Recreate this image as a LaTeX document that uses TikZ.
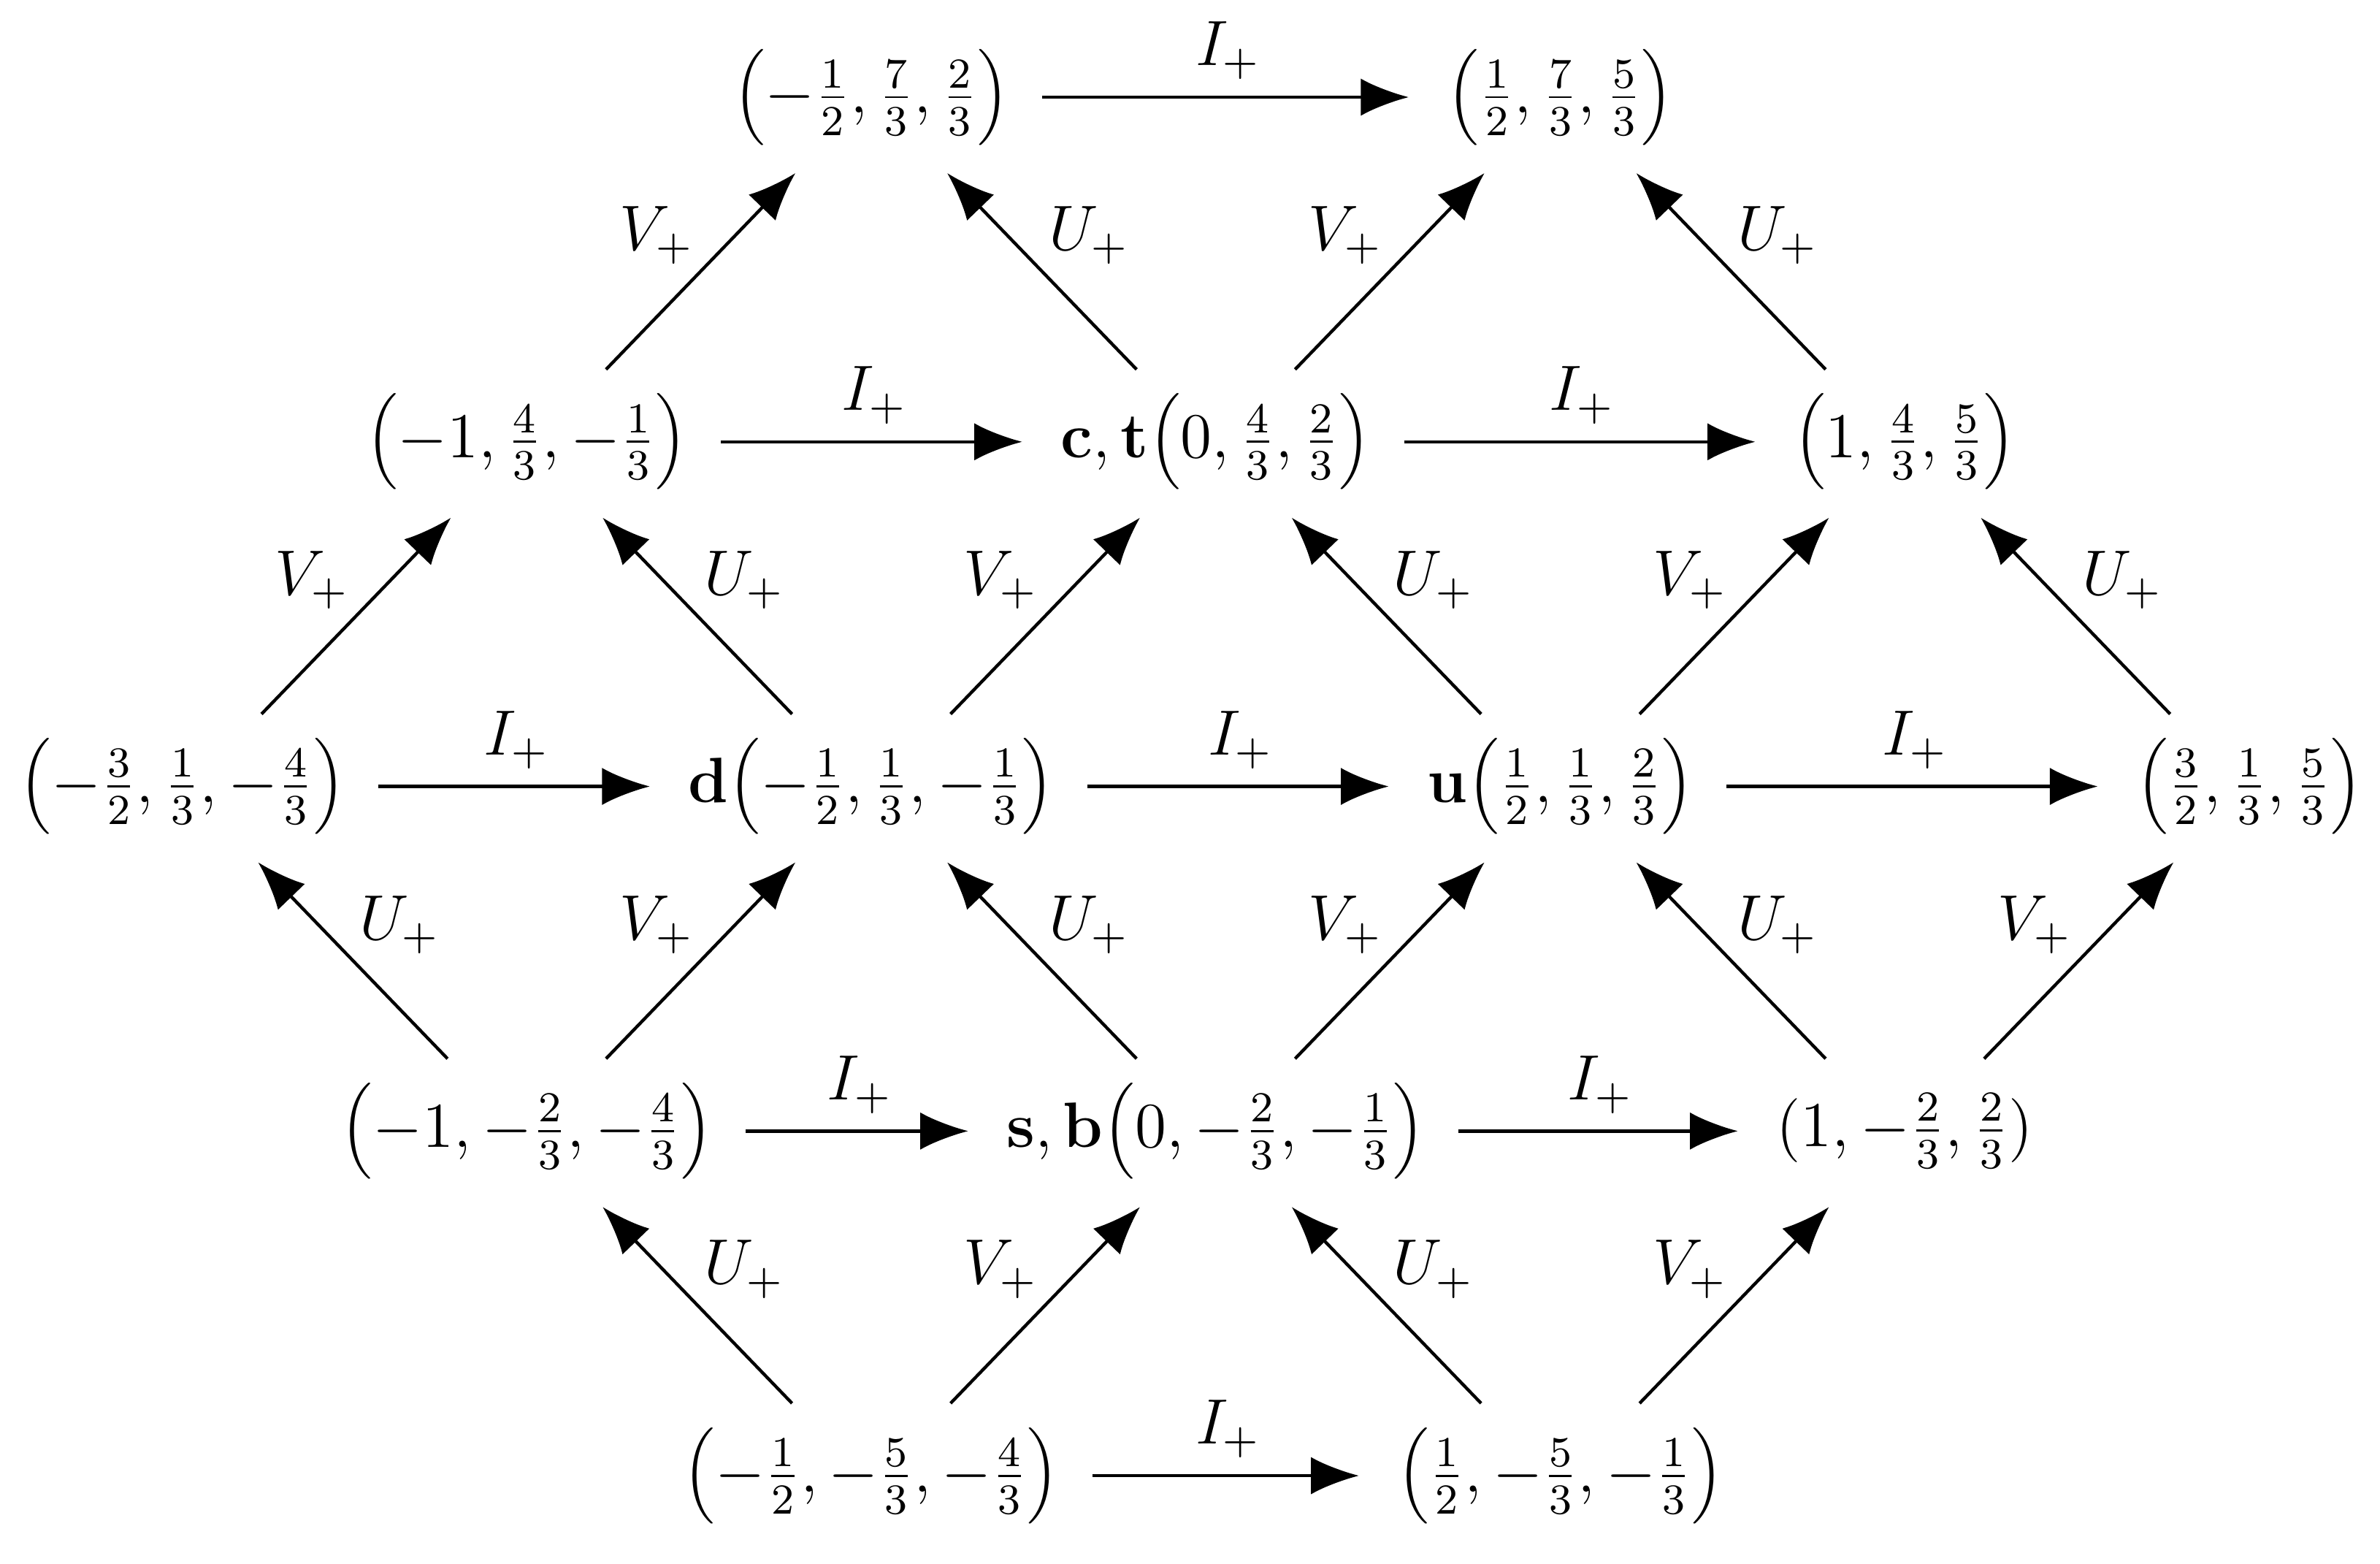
\documentclass[tikz,border=0pt]{standalone}
\usetikzlibrary{arrows.meta,calc}
\begin{document}
\begin{tikzpicture}[x=2.27cm,y=2.27cm,
  every node/.style={inner sep=1pt,font=\large},
  arr/.style={-{Latex[length=9pt,width=7pt]},semithick},
  lab/.style={font=\large}]
\useasboundingbox (-0.529,2.282) rectangle (6.379,-2.255);
\node (a1) at (2,2) {$\left(-\frac12,\frac73,\frac23\right)$};
\node (a2) at (4,2) {$\left(\frac12,\frac73,\frac53\right)$};
\node (b0) at (1,1) {$\left(-1,\frac43,-\frac13\right)$};
\node (b1) at (3,1) {$\mathbf{c},\mathbf{t}\!\left(0,\frac43,\frac23\right)$};
\node (b2) at (5,1) {$\left(1,\frac43,\frac53\right)$};
\node (c0) at (0,0) {$\left(-\frac32,\frac13,-\frac43\right)$};
\node (c1) at (2,0) {$\mathbf{d}\!\left(-\frac12,\frac13,-\frac13\right)$};
\node (c2) at (4,0) {$\mathbf{u}\!\left(\frac12,\frac13,\frac23\right)$};
\node (c3) at (6,0) {$\left(\frac32,\frac13,\frac53\right)$};
\node (d0) at (1,-1) {$\left(-1,-\frac23,-\frac43\right)$};
\node (d1) at (3,-1) {$\mathbf{s},\mathbf{b}\!\left(0,-\frac23,-\frac13\right)$};
\node (d2) at (5,-1) {$(1,-\frac23,\frac23)$};
\node (e0) at (2,-2) {$\left(-\frac12,-\frac53,-\frac43\right)$};
\node (e1) at (4,-2) {$\left(\frac12,-\frac53,-\frac13\right)$};
\foreach \s/\t in {a1/a2,b0/b1,b1/b2,c0/c1,c1/c2,c2/c3,d0/d1,d1/d2,e0/e1}{
  \draw[arr,shorten <=5pt,shorten >=6pt] (\s.east) -- node[lab,above=2pt]{$I_+$} (\t.west);}
\foreach \s/\t in {b0/a1,b1/a2,c0/b0,c1/b1,c2/b2,d0/c1,d1/c2,d2/c3,e0/d1,e1/d2}{
  \draw[arr] ($(\s)+(0.23,0.21)$) -- node[lab,above left=0pt]{$V_+$} ($(\t)+(-0.22,-0.22)$);}
\foreach \s/\t in {b1/a1,b2/a2,c1/b0,c2/b1,c3/b2,d0/c0,d1/c1,d2/c2,e0/d0,e1/d1}{
  \draw[arr] ($(\s)+(-0.23,0.21)$) -- node[lab,above right=0pt]{$U_+$} ($(\t)+(0.22,-0.22)$);}
\end{tikzpicture}
\end{document}
